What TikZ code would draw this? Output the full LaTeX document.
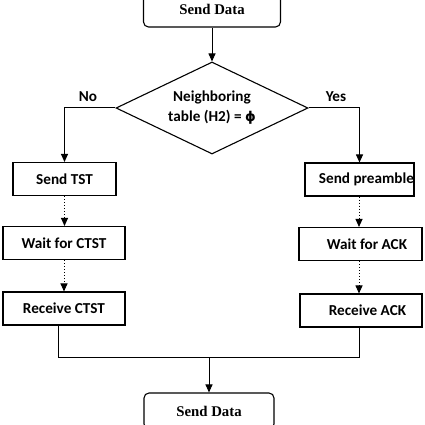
\documentclass[tikz,border=0pt]{standalone}
\usepackage{fontspec}
\setmainfont{Carlito}
\newfontfamily\serifbf{Liberation Serif}
\newfontfamily\dejavu{DejaVu Sans}
\usetikzlibrary{shapes.geometric,arrows.meta}
\begin{document}
\begin{tikzpicture}[x=1pt,y=-1pt,
  every node/.style={font=\fontsize{15.2}{20}\selectfont\bfseries},
  procbox/.style={draw,line width=1.1pt,inner sep=0pt,minimum height=33pt},
  termbox/.style={draw,line width=1.1pt,rounded corners=5pt,inner sep=0pt,minimum width=137pt,minimum height=36pt,font=\fontsize{14.8}{18}\selectfont\serifbf\bfseries},
  decbox/.style={draw,line width=1.1pt,shape=diamond,shape aspect=2.09,inner sep=0pt,minimum width=192pt,minimum height=92pt,align=center},
  conn/.style={line width=1pt},
  arr/.style={conn,-{Triangle[length=8pt,width=7pt]}},
  darr/.style={arr,dotted}]
\useasboundingbox (0,0) rectangle (425,425);
\node[termbox] (top) at (212,9) {Send Data};
\node[decbox] (dia) at (212,108) {Neighboring\\table (H2) = {\dejavu\fontsize{13.5}{20}\selectfont ϕ}};
\node (no) at (88,97) {No};
\node (yes) at (336,97) {Yes};
\node[procbox,minimum width=103pt] (tst) at (64.5,179) {Send TST};
\node[procbox,minimum width=122pt] (wct) at (64,243) {Wait for CTST};
\node[procbox,minimum width=122pt] (rct) at (64,308.5) {Receive CTST};
\node[procbox,minimum width=107pt] (pre) at (359.5,179.5) {\hspace*{14pt}Send preamble};
\node[procbox,minimum width=123pt] (wack) at (360.5,244) {\hspace*{13pt}Wait for ACK};
\node[procbox,minimum width=122pt] (rack) at (361,310.5) {\hspace*{13pt}Receive ACK};
\node[termbox,minimum width=130pt] (bot) at (209,411) {Send Data};
\coordinate (j1) at (58,357);
\coordinate (j2) at (359,357);
\coordinate (jm) at (209,357);
\draw[arr] (top.south -| dia.north) -- (dia.north);
\draw[arr] (dia.west) -| (tst.north);
\draw[arr] (dia.east) -| (pre.north);
\draw[darr] (tst.south) -- (tst.south |- wct.north);
\draw[darr] (wct.south) -- (wct.south |- rct.north);
\draw[darr] (pre.south -| j2) -- (j2 |- wack.north);
\draw[darr] (j2 |- wack.south) -- (j2 |- rack.north);
\draw[conn] (j1 |- rct.south) -- (j1) -- (j2) -- (j2 |- rack.south);
\draw[arr] (jm) -- (bot.north);
\end{tikzpicture}
\end{document}
